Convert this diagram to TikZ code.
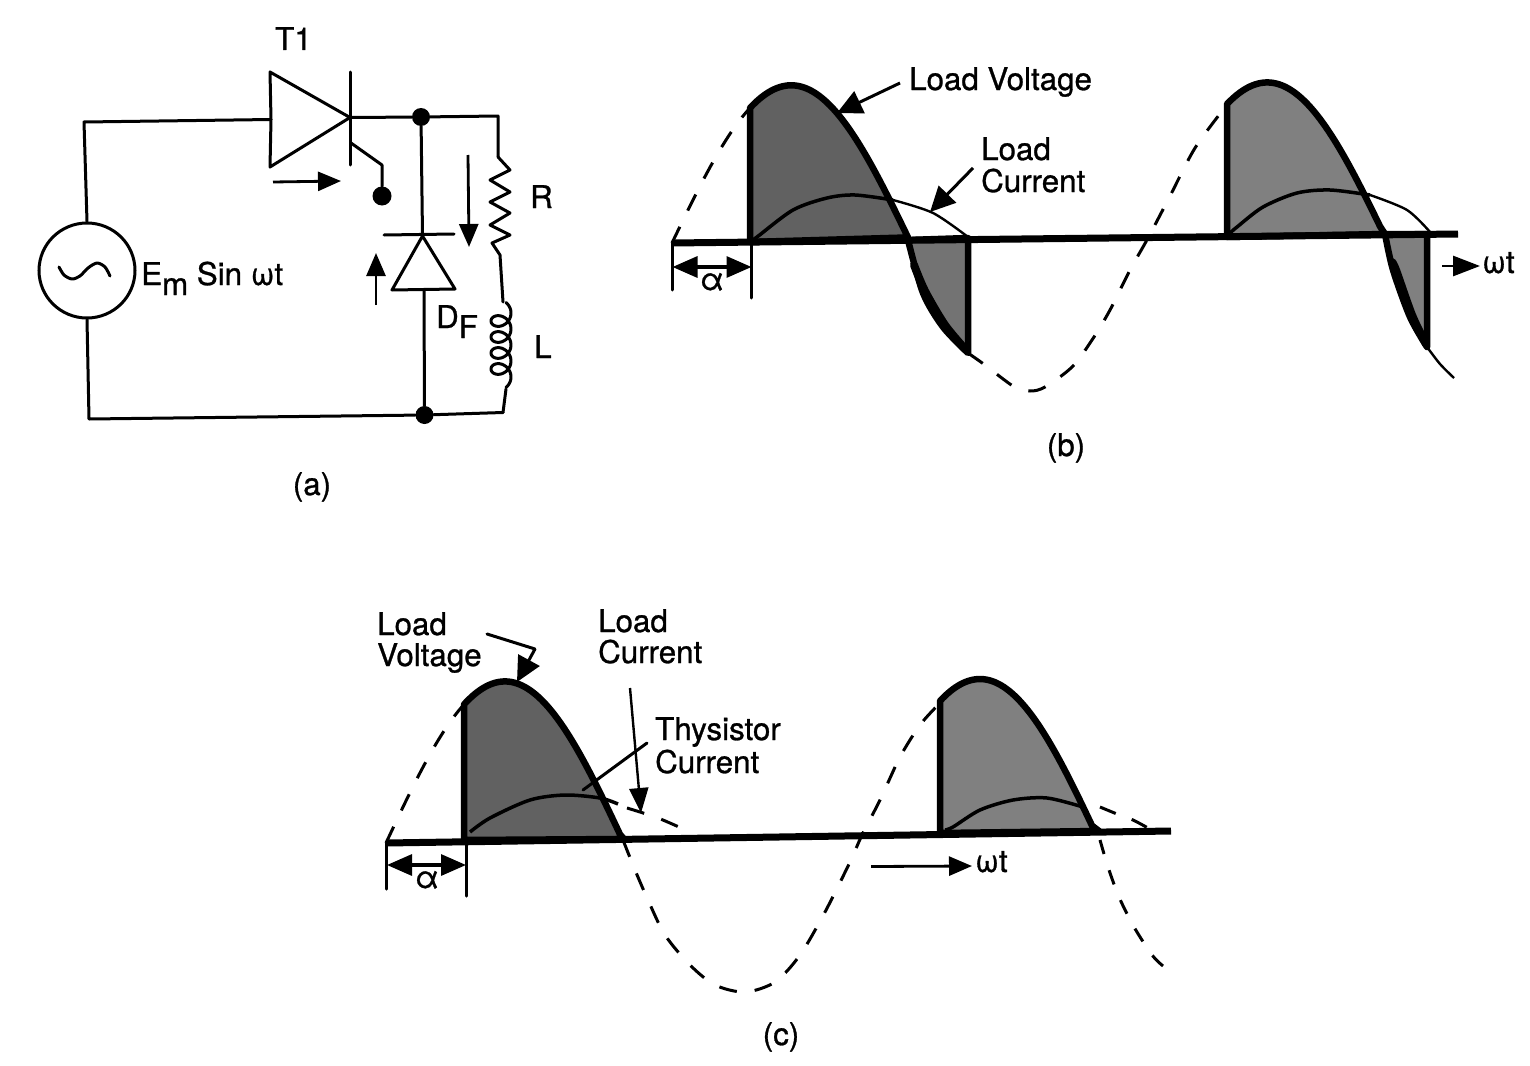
\documentclass[tikz,border=0pt]{standalone}
\usepackage{fontspec}
\setmainfont{TeX Gyre Heros}[RawFeature={embolden=0.9}]
\usetikzlibrary{arrows.meta,shapes.geometric}
\tikzset{
  txt/.style={inner sep=0pt,font=\fontsize{31.3}{33}\selectfont,text=black},
  wire/.style={line width=3pt,line join=round,line cap=round,draw=black},
  leader/.style={line width=3pt,draw=black,-{Triangle[length=25pt,width=24pt]}},
  dimarrow/.style={line width=3.2pt,draw=black,{Triangle[length=25pt,width=21pt]}-{Triangle[length=25pt,width=21pt]}},
  smallarrow/.style={line width=2.8pt,draw=black,-{Triangle[length=23pt,width=19pt]}},
  dashline/.style={line width=3pt,draw=black,dash pattern=on 18pt off 18pt},
  axisline/.style={line width=7pt,draw=black},
  lobe/.style={draw=black,line width=6.5pt,line join=round},
  crescent/.style={line width=8pt,draw=black,line cap=round},
  dot/.style={circle,fill=black,inner sep=0pt,minimum size=18pt},
  curr/.style={line width=2.4pt,draw=black}
}
\begin{document}
\begin{tikzpicture}[x=1pt,y=-1pt,
  declare function={
    bv(\x)=243-0.006*(\x-672)-157*sin(0.7563*(\x-672));
    cv(\x)=843-0.005*(\x-386)-161*sin(0.7579*(\x-386));
  }]
\useasboundingbox (0,0) rectangle (1530,1065);
\fill[white] (0,0) rectangle (1530,1065);

% ---------------- circuit (a)
\node[ellipse,draw=black,line width=3pt,minimum width=96pt,minimum height=95pt,inner sep=0pt] (src) at (87,270.5) {};
\coordinate (tl) at (84,122);
\coordinate (an) at (271,119.5);
\coordinate (ca) at (350,117.5);
\coordinate (tr) at (498,116);
\coordinate (rtop) at (498,157);
\coordinate (rbot) at (492,243);
\coordinate (lend) at (503,412.5);
\coordinate (bl) at (89,419);
\node[dot] (j1) at (421,117) {};
\node[dot] (j2) at (424.5,415) {};
\node[dot,minimum size=19pt] (g) at (382,196) {};
\draw[wire] (src.north) -- (tl) -- (an);
\draw[wire] (src.south) -- (bl) -- (j2) -- (lend);
\draw[wire] (an) -- (270,72) -- (ca) -- (270,167) -- (an);
\draw[wire] (350,72) -- (350,165);
\draw[wire] (ca) -- (j1) -- (tr) -- (rtop);
\draw[wire] (351,143) -- (382,165) -- (g);
\draw[wire] (rtop) -- (510,170) -- (490,180) -- (510,192) -- (490,202) -- (510,213) -- (490,225) -- (510,235) -- (rbot) -- (500,255) -- (503,302);
\draw[wire] plot[smooth,domain=-60:1500,samples=140] ({501+10*cos(\x)},{313+0.04444*\x+9*sin(\x)});
\draw[wire] (506,389) -- (lend);
% freewheeling diode
\coordinate (dt) at (422.5,236);
\coordinate (db) at (424,290);
\draw[wire] (j1) -- (dt);
\draw[wire] (384,235) -- (454,234);
\draw[wire] (dt) -- (392,290) -- (455,289) -- cycle;
\draw[wire] (db) -- (j2);
% source symbol
\draw[wire] plot[smooth] coordinates {(59,267) (64,275) (72,279) (80,276) (88,268) (97,263) (105,267) (110,276)};
% current arrows
\coordinate (a1s) at (273,182); \coordinate (a1e) at (341,181);
\coordinate (a2s) at (376,305); \coordinate (a2e) at (376,253);
\coordinate (a3s) at (468,155); \coordinate (a3e) at (469,247);
\draw[smallarrow] (a1s) -- (a1e);
\draw[smallarrow] (a2s) -- (a2e);
\draw[smallarrow] (a3s) -- (a3e);
\node[txt,anchor=base west] (lt1) at (275,50) {T1};
\node[txt,anchor=base west] (lem) at (141,285) {E\raisebox{-10pt}{m} Sin ωt};
\node[txt,anchor=base west] (ldf) at (436,328) {D\raisebox{-10pt}{F}};
\node[txt,anchor=base west] (lr) at (530,208) {R};
\node[txt,anchor=base west] (ll) at (534,358) {L};
\node[txt,anchor=base] (la) at (312,495) {(a)};

% ---------------- waveform (b)
\draw[dashline] plot[domain=672:750,samples=30] (\x,{bv(\x)});
\draw[dashline] plot[smooth] coordinates {(968,353) (985,365) (1013,386) (1030,391) (1045,387) (1072,367) (1092,340) (1110,310) (1130,270) (1148,238) (1170,196) (1195,148) (1226,106)};
\filldraw[lobe,fill=black!62] (750,242) -- plot[domain=750:908,samples=60] (\x,{bv(\x)}) -- cycle;
\filldraw[lobe,fill=black!55] (908,240) -- plot[smooth] coordinates {(908,240) (923,293) (943,327) (968,353)} -- (968,238) -- cycle;
\draw[crescent] plot[smooth] coordinates {(914,265) (925,291) (945,325) (966,350)};
\filldraw[lobe,fill=black!50] (1227,237) -- plot[domain=1227:1380,samples=60] (\x,{bv(\x)}) -- (1385,234) -- cycle;
\filldraw[lobe,fill=black!50] (1385,234) -- plot[smooth] coordinates {(1385,234) (1393,270) (1410,317) (1427,347)} -- (1427,234) -- cycle;
\draw[crescent] plot[smooth] coordinates {(1392,262) (1396,270) (1412,315) (1426,344)};
\draw[curr] plot[smooth] coordinates {(1427,347) (1440,364) (1454,378)};
\draw[line width=3.5pt] plot[smooth] coordinates {(752,240) (757,237) (793,210) (827,198) (855,195) (893,200)};
\draw[curr] plot[smooth] coordinates {(893,200) (933,213) (968,237)};
\draw[line width=3.5pt] plot[smooth] coordinates {(1230,233) (1237,227) (1263,207) (1297,193) (1330,190) (1370,195)};
\draw[curr] plot[smooth] coordinates {(1370,195) (1407,210) (1430,232)};
\coordinate (b0) at (672,243); \coordinate (b1) at (1458,234);
\draw[axisline] (b0) -- (b1);
% alpha (b)
\coordinate (ba0) at (672,290); \coordinate (ba1) at (751,298);
\coordinate (bm0) at (672.5,267); \coordinate (bm1) at (751.5,267);
\draw[wire] (b0) -- (ba0);
\draw[wire] (751,243) -- (ba1);
\draw[dimarrow] (bm0) -- (bm1);
\node[txt,anchor=base] (balpha) at (712,290) {α};
% labels (b)
\node[txt,anchor=base west] (blv) at (909,90) {Load Voltage};
\node[txt,anchor=base west] (blc1) at (981,160) {Load};
\node[txt,anchor=base west] (blc2) at (981,192) {Current};
\node[txt,anchor=base] (lb) at (1066,456) {(b)};
\node[txt,anchor=base west] (bwt) at (1482,273) {ωt};
\coordinate (bwa) at (1442,266); \coordinate (bwb) at (1480,266);
\coordinate (bls) at (900,83); \coordinate (bcs) at (973,168);
\coordinate (bt1) at (837,113); \coordinate (bt2) at (930,212);
\draw[leader] (bls) -- (bt1);
\draw[leader] (bcs) -- (bt2);
\draw[line width=2.8pt,draw=black,-{Triangle[length=27pt,width=20pt]}] (bwa) -- (bwb);

% ---------------- waveform (c)
\draw[dashline] plot[domain=386:462,samples=30] (\x,{cv(\x)});
\draw[dashline] plot[smooth] coordinates {(623,840) (635,870) (648,900) (665,935) (690,965) (715,985) (745,992) (775,982) (800,955) (825,912) (850,862) (862,835) (880,800) (900,757) (920,725) (938,705)};
\draw[dashline,dash pattern=on 15pt off 17pt] plot[smooth] coordinates {(1163,966) (1152,955) (1134,927) (1119,897) (1108,867) (1100,840)};
\draw[dashline] plot[smooth] coordinates {(627,808) (658,818) (690,832)};
\draw[dashline,dash pattern=on 17pt off 17pt] plot[smooth] coordinates {(1100,807) (1117,814) (1133,820) (1148,828)};
\filldraw[lobe,fill=black!62] (464,840) -- plot[domain=464:620,samples=60] (\x,{cv(\x)}) -- (624,839) -- cycle;
\filldraw[lobe,fill=black!50] (940,833) -- plot[domain=940:1092,samples=60] (\x,{cv(\x)}) -- (1099,831) -- cycle;
\draw[line width=3.5pt] plot[smooth] coordinates {(470,832) (490,818) (530,800) (565,795) (600,798) (618,804)};
\draw[line width=3.5pt] plot[smooth] coordinates {(945,830) (953,827) (980,810) (1013,800) (1047,798) (1083,807)};
\coordinate (c0) at (386,843); \coordinate (c1) at (1171,831);
\draw[axisline] (c0) -- (c1);
% alpha (c)
\coordinate (ca0) at (386,889); \coordinate (ca1) at (466,896);
\coordinate (cm0) at (387,865); \coordinate (cm1) at (466,865);
\draw[wire] (c0) -- (ca0);
\draw[wire] (466,842) -- (ca1);
\draw[dimarrow] (cm0) -- (cm1);
\node[txt,anchor=base] (calpha) at (427,888) {α};
% labels (c)
\node[txt,anchor=base west] (clv1) at (377,635) {Load};
\node[txt,anchor=base west] (clv2) at (377,666) {Voltage};
\node[txt,anchor=base west] (clc1) at (598,632) {Load};
\node[txt,anchor=base west] (clc2) at (598,663) {Current};
\node[txt,anchor=base west] (ctc1) at (655,740) {Thysistor};
\node[txt,anchor=base west] (ctc2) at (655,773) {Current};
\node[txt,anchor=base] (lc) at (781,1045) {(c)};
\node[txt,anchor=base west] (cwt) at (975,872) {ωt};
\coordinate (cla) at (487,634); \coordinate (clb) at (535,649); \coordinate (clt) at (517,682);
\draw[wire] (cla) -- (clb);
\draw[leader] (clb) -- (clt);
\coordinate (cca) at (630,688); \coordinate (cct) at (641,813);
\draw[line width=2.4pt,draw=black,-{Triangle[length=25pt,width=19pt]}] (cca) -- (cct);
\coordinate (cta) at (647,743); \coordinate (ctb) at (583,790);
\draw[wire] (cta) -- (ctb);
\coordinate (cwa) at (871,866.5); \coordinate (cwb) at (972,866);
\draw[smallarrow] (cwa) -- (cwb);
\end{tikzpicture}
\end{document}
